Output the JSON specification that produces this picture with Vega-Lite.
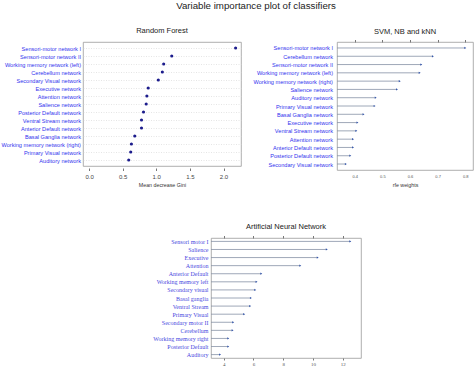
{
  "$schema": "https://vega.github.io/schema/vega-lite/v6.json",
  "background": "white",
  "padding": {"left": 0, "top": 1, "right": 0, "bottom": 0},
  "spacing": 33,
  "title": {"text": "Variable importance plot of classifiers", "fontSize": 9.7, "fontWeight": "normal", "font": "Liberation Sans", "color": "#222222", "anchor": "middle", "offset": 15, "dx": 19},
  "config": {
    "view": {"stroke": "#9a9a9a", "strokeWidth": 0.8},
    "font": "Liberation Sans",
    "title": {"fontWeight": "normal", "color": "#222222"}
  },
  "datasets": {
    "rf": [
      {"name": "Sensori-motor network I", "value": 2.18},
      {"name": "Sensori-motor network II", "value": 1.23},
      {"name": "Working memory network (left)", "value": 1.11},
      {"name": "Cerebellum network", "value": 1.09},
      {"name": "Secondary Visual network", "value": 1.03},
      {"name": "Executive network", "value": 0.88},
      {"name": "Attention network", "value": 0.86},
      {"name": "Salience network", "value": 0.85},
      {"name": "Posterior Default network", "value": 0.81},
      {"name": "Ventral Stream network", "value": 0.78},
      {"name": "Anterior Default network", "value": 0.78},
      {"name": "Basal Ganglia network", "value": 0.68},
      {"name": "Working memory network (right)", "value": 0.63},
      {"name": "Primary Visual network", "value": 0.62},
      {"name": "Auditory network", "value": 0.59}
    ],
    "svm": [
      {"name": "Sensori-motor network I", "value": 0.8},
      {"name": "Cerebellum network", "value": 0.683},
      {"name": "Sensori-motor network II", "value": 0.641},
      {"name": "Working memory network (left)", "value": 0.635},
      {"name": "Working memory network (right)", "value": 0.563},
      {"name": "Salience network", "value": 0.553},
      {"name": "Auditory network", "value": 0.476},
      {"name": "Primary Visual network", "value": 0.472},
      {"name": "Basal Ganglia network", "value": 0.432},
      {"name": "Executive network", "value": 0.41},
      {"name": "Ventral Stream network", "value": 0.406},
      {"name": "Attention network", "value": 0.394},
      {"name": "Anterior Default network", "value": 0.394},
      {"name": "Posterior Default network", "value": 0.384},
      {"name": "Secondary Visual network", "value": 0.368}
    ],
    "ann": [
      {"name": "Sensori motor I", "value": 12.51},
      {"name": "Salience", "value": 10.93},
      {"name": "Executive", "value": 10.32},
      {"name": "Attention", "value": 9.15},
      {"name": "Anterior Default", "value": 6.53},
      {"name": "Working memory left", "value": 6.21},
      {"name": "Secondary visual", "value": 6.12},
      {"name": "Basal ganglia", "value": 5.83},
      {"name": "Ventral Stream", "value": 5.78},
      {"name": "Primary Visual", "value": 5.38},
      {"name": "Secondary motor II", "value": 4.64},
      {"name": "Cerebellum", "value": 4.6},
      {"name": "Working memory right", "value": 4.31},
      {"name": "Posterior Default", "value": 4.31},
      {"name": "Auditory", "value": 3.76}
    ]
  },
  "vconcat": [
    {
      "bounds": "flush",
      "spacing": 96,
      "hconcat": [
        {
          "title": {"text": "Random Forest", "fontSize": 7.5, "offset": 8},
          "data": {"name": "rf"},
          "width": 158,
          "height": 124,
          "mark": {"type": "circle", "size": 10, "color": "#1c1c8c", "opacity": 1},
          "encoding": {
            "y": {
              "field": "name", "type": "nominal",
              "sort": ["Sensori-motor network I", "Sensori-motor network II", "Working memory network (left)", "Cerebellum network", "Secondary Visual network", "Executive network", "Attention network", "Salience network", "Posterior Default network", "Ventral Stream network", "Anterior Default network", "Basal Ganglia network", "Working memory network (right)", "Primary Visual network", "Auditory network"],
              "scale": {"type": "point", "padding": 0.75},
              "axis": {"title": null, "labelColor": "#3333ee", "labelFontSize": 5.6, "labelFont": "Liberation Sans", "ticks": false, "domain": false, "labelPadding": 2.5, "grid": true, "gridColor": "#d4d4d4", "gridDash": [1, 1.5], "gridWidth": 0.6, "labelLimit": 300}
            },
            "x": {
              "field": "value", "type": "quantitative",
              "scale": {"domain": [-0.09, 2.26], "nice": false, "zero": false},
              "axis": {"title": "Mean decrease Gini", "titleFontSize": 5.3, "titleFontWeight": "normal", "titleColor": "#333", "values": [0, 0.5, 1, 1.5, 2], "format": ".1f", "labelFontSize": 6, "labelColor": "#444444", "domain": false, "tickSize": 2.5, "offset": 2, "tickColor": "#777777", "grid": false, "labelPadding": 3, "titlePadding": 3}
            }
          }
        },
        {
          "title": {"text": "SVM, NB and kNN", "fontSize": 7.5, "offset": 4},
          "data": {"name": "svm"},
          "width": 136,
          "height": 128,
          "encoding": {
            "y": {
              "field": "name", "type": "nominal",
              "sort": ["Sensori-motor network I", "Cerebellum network", "Sensori-motor network II", "Working memory network (left)", "Working memory network (right)", "Salience network", "Auditory network", "Primary Visual network", "Basal Ganglia network", "Executive network", "Ventral Stream network", "Attention network", "Anterior Default network", "Posterior Default network", "Secondary Visual network"],
              "scale": {"type": "point", "padding": 0.72},
              "axis": {"title": null, "labelColor": "#3333ee", "labelFontSize": 5.6, "labelFont": "Liberation Sans", "ticks": false, "domain": false, "labelPadding": 4.5, "grid": false, "labelLimit": 300}
            }
          },
          "layer": [
            {
              "mark": {"type": "rule", "color": "#8692a6", "strokeWidth": 0.8},
              "encoding": {
                "x": {
                  "field": "value", "type": "quantitative",
                  "scale": {"domain": [0.336, 0.828], "nice": false, "zero": false},
                  "axis": {"orient": "bottom", "title": "rfe weights", "titleFontSize": 5.3, "titleFontWeight": "normal", "titleColor": "#333", "values": [0.4, 0.5, 0.6, 0.7, 0.8], "format": ".1f", "labelFontSize": 4, "labelColor": "#555555", "domain": false, "ticks": false, "grid": false, "labelPadding": 4, "titlePadding": 4}
                },
                "x2": {"datum": 0.336}
              }
            },
            {
              "mark": {"type": "point", "shape": "triangle-right", "filled": true, "size": 5, "color": "#3355aa", "opacity": 1},
              "encoding": {
                "x": {
                  "field": "value", "type": "quantitative",
                  "axis": {"orient": "top", "title": null, "labels": false, "values": [0.4, 0.5, 0.6, 0.7, 0.8], "domain": false, "tickSize": 2.5, "tickColor": "#777777", "grid": false}
                }
              }
            }
          ],
          "resolve": {"axis": {"x": "independent"}}
        }
      ]
    },
    {
      "bounds": "flush",
      "spacing": 0,
      "hconcat": [
        {
          "data": {"values": []},
          "width": 128,
          "height": 10,
          "view": {"stroke": null},
          "mark": {"type": "point", "opacity": 0},
          "encoding": {}
        },
        {
          "title": {"text": "Artificial Neural Network", "fontSize": 7.5, "offset": 5},
          "data": {"name": "ann"},
          "width": 150,
          "height": 120,
          "encoding": {
            "y": {
              "field": "name", "type": "nominal",
              "sort": ["Sensori motor I", "Salience", "Executive", "Attention", "Anterior Default", "Working memory left", "Secondary visual", "Basal ganglia", "Ventral Stream", "Primary Visual", "Secondary motor II", "Cerebellum", "Working memory right", "Posterior Default", "Auditory"],
              "scale": {"type": "point", "padding": 0.42},
              "axis": {"title": null, "labelColor": "#4a4ae0", "labelFontSize": 6, "labelFont": "Liberation Serif", "ticks": false, "domain": false, "labelPadding": 3, "grid": false, "labelLimit": 300}
            }
          },
          "layer": [
            {
              "mark": {"type": "rule", "color": "#8692a6", "strokeWidth": 0.8},
              "encoding": {
                "x": {
                  "field": "value", "type": "quantitative",
                  "scale": {"domain": [3.15, 13.23], "nice": false, "zero": false},
                  "axis": {"orient": "bottom", "title": null, "values": [4, 6, 8, 10, 12], "labelFontSize": 5, "labelFont": "Liberation Serif", "labelColor": "#555555", "domain": false, "tickSize": 2, "tickColor": "#777777", "offset": 0, "grid": false, "labelPadding": 1}
                },
                "x2": {"datum": 3.15}
              }
            },
            {
              "mark": {"type": "point", "shape": "triangle-right", "filled": true, "size": 5, "color": "#3355aa", "opacity": 1},
              "encoding": {
                "x": {
                  "field": "value", "type": "quantitative",
                  "axis": {"orient": "top", "title": null, "labels": false, "values": [4, 6, 8, 10, 12], "domain": false, "tickSize": 2.5, "tickColor": "#777777", "grid": false}
                }
              }
            }
          ],
          "resolve": {"axis": {"x": "independent"}}
        }
      ]
    }
  ]
}
